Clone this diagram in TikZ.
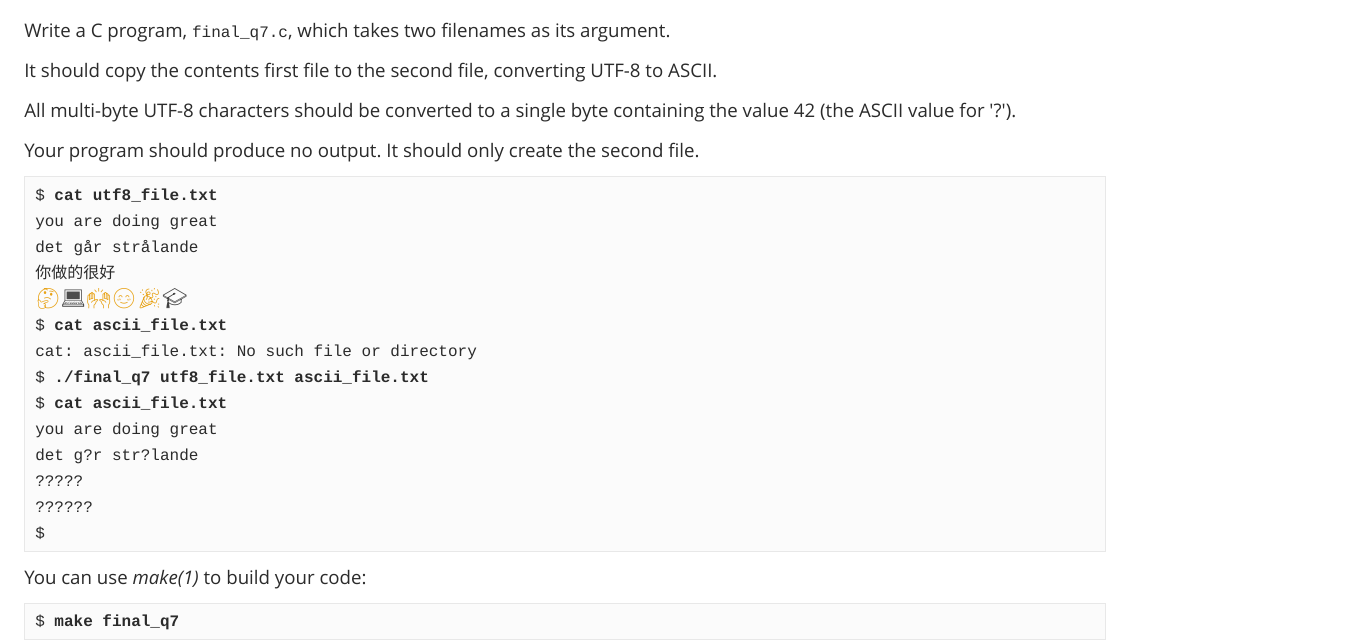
\documentclass[tikz,border=0pt]{standalone}
\usepackage{fontspec}
\setmainfont{Open Sans}
\setmonofont{Liberation Mono}
\newfontfamily\cjk{Noto Sans CJK SC}
\newfontfamily\emo{Noto Emoji}
\definecolor{txt}{HTML}{2B2B2B}
\definecolor{boxbg}{HTML}{FBFBFB}
\definecolor{boxln}{HTML}{E8E8E8}
\definecolor{emy}{HTML}{E8A317}
\frenchspacing
\begin{document}
\begin{tikzpicture}[x=0.75pt,y=-0.75pt,
  para/.style={anchor=base west,inner sep=0,text=txt,font=\fontsize{14}{16}\selectfont},
  code/.style={anchor=base west,inner sep=0,text=txt,font=\ttfamily\fontsize{12}{14}\selectfont},
  codebox/.style={draw=boxln,fill=boxbg,line width=0.75pt}]
\useasboundingbox[fill=white] (0,0) rectangle (1365,643);
\node[para] (p1) at (24,37) {Write a C program, {\ttfamily\fontsize{12}{14}\selectfont final\_q7.c}, which takes two filenames as its argument.};
\node[para] (p2) at (24,77) {It should copy the contents first file to the second file, converting UTF-8 to ASCII.};
\node[para] (p3) at (24,117) {All multi-byte UTF-8 characters should be converted to a single byte containing the value 42 (the ASCII value for \textquotesingle?\textquotesingle).};
\node[para] (p4) at (24,157) {Your program should produce no output. It should only create the second file.};
\draw[codebox] (24,176) rectangle (1105,551);
\node[code] (c1) at (35,200) {\$ \textbf{cat utf8\_file.txt}};
\node[code] (c2) at (35,226) {you are doing great};
\node[code] (c3) at (35,252) {det går strålande};
\node[code] (c4) at (35,278) {\cjk 你做的很好};
\node[code] (c5) at (35,305) {\emo\fontsize{15}{16}\selectfont\textcolor{emy}{🤔}\textcolor{black!70}{💻}\textcolor{emy}{🙌😊🎉}\textcolor{black!75}{🎓}};
\node[code] (c6) at (35,330) {\$ \textbf{cat ascii\_file.txt}};
\node[code] (c7) at (35,356) {cat: ascii\_file.txt: No such file or directory};
\node[code] (c8) at (35,382) {\$ \textbf{./final\_q7 utf8\_file.txt ascii\_file.txt}};
\node[code] (c9) at (35,408) {\$ \textbf{cat ascii\_file.txt}};
\node[code] (c10) at (35,434) {you are doing great};
\node[code] (c11) at (35,460) {det g?r str?lande};
\node[code] (c12) at (35,486) {?????};
\node[code] (c13) at (35,512) {??????};
\node[code] (c14) at (35,538) {\$};
\node[para] (p5) at (24,584) {You can use \textit{make(1)} to build your code:};
\draw[codebox] (24,603) rectangle (1105,639);
\node[code] (m1) at (35,626) {\$ \textbf{make final\_q7}};
\end{tikzpicture}
\end{document}
